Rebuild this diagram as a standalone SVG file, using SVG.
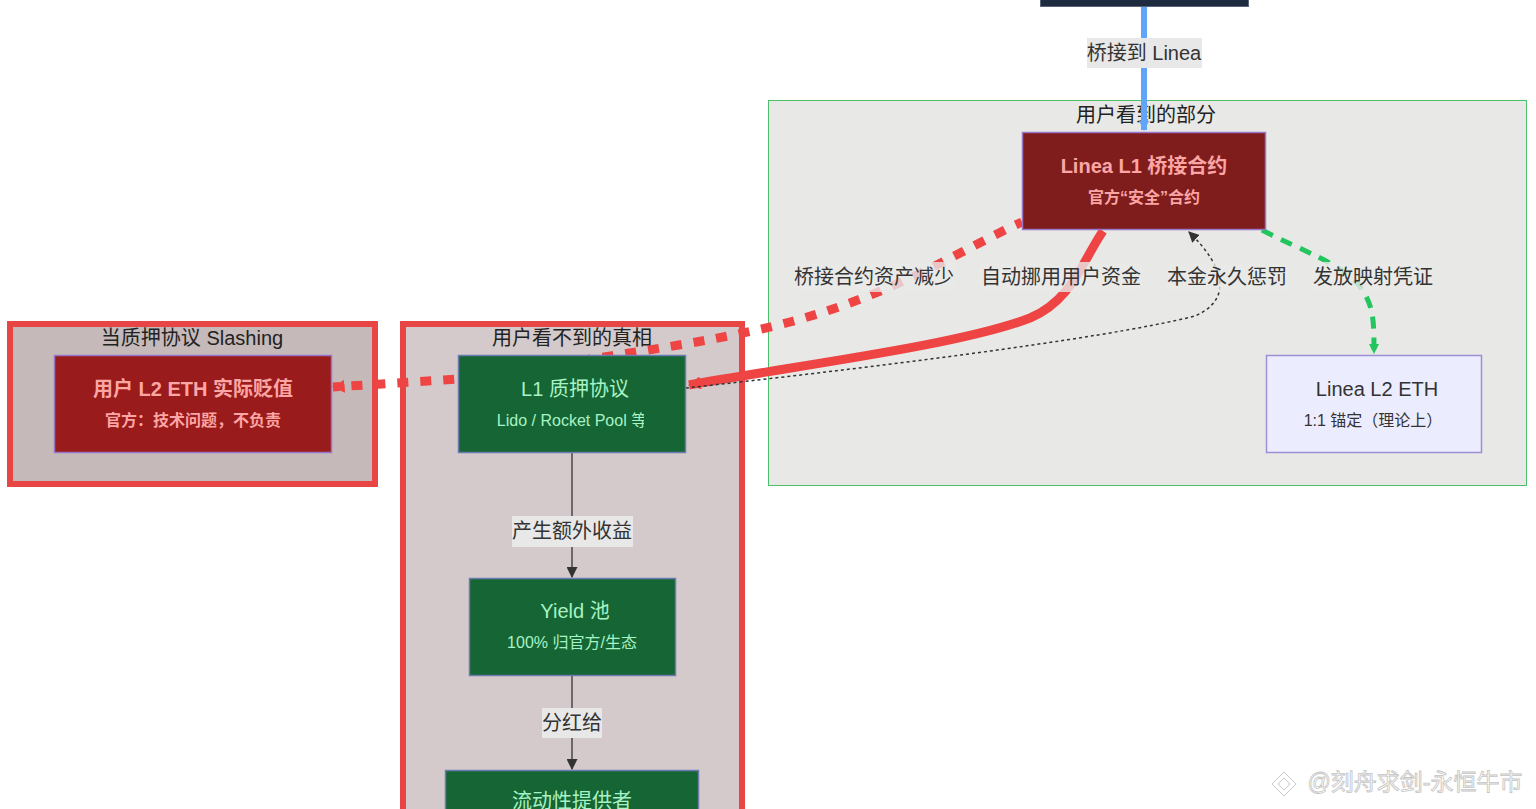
<svg xmlns="http://www.w3.org/2000/svg" width="1536" height="809" viewBox="0 0 1536 809">
<style>
text{font-family:"Liberation Sans","Noto Sans CJK SC",sans-serif;text-anchor:middle;dominant-baseline:central}
.ct{font-size:20px;fill:#222}
.lb{font-size:20px;fill:#333}
.lbg{fill:#e8e8e8;opacity:.8}
.nt{font-size:20px;font-weight:bold;fill:#fca5a5}
.ns{font-size:16px;font-weight:bold;fill:#fca5a5}
.gt{font-size:20px;fill:#a7f3c4}
.gs{font-size:16px;fill:#a7f3c4}
.gn{fill:#166534;stroke:#6b7bb0;stroke-width:1.5}
.rn{stroke:#9a76c8;stroke-width:1.5}
</style>
<defs>
<marker id="aBlue" markerUnits="userSpaceOnUse" viewBox="0 0 10 10" refX="9" refY="5" markerWidth="10" markerHeight="10" orient="auto"><path d="M0,0 L10,5 L0,10 z" fill="#60a5fa"/></marker>
<marker id="aRed" markerUnits="userSpaceOnUse" viewBox="0 0 10 10" refX="9" refY="5" markerWidth="13" markerHeight="13" orient="auto"><path d="M0,0 L10,5 L0,10 z" fill="#ef4444"/></marker>
<marker id="aGreen" markerUnits="userSpaceOnUse" viewBox="0 0 10 10" refX="9" refY="5" markerWidth="10" markerHeight="10" orient="auto"><path d="M0,0 L10,5 L0,10 z" fill="#22c55e"/></marker>
<marker id="aDark" markerUnits="userSpaceOnUse" viewBox="0 0 10 10" refX="9" refY="5" markerWidth="11" markerHeight="11" orient="auto"><path d="M0,0 L10,5 L0,10 z" fill="#333"/></marker>
<clipPath id="clipLido"><rect x="458" y="355" width="186" height="98"/></clipPath>
</defs>
<rect width="1536" height="809" fill="#fff"/>

<g id="cluster-seen">
<rect x="768.5" y="100.5" width="758" height="385" fill="#e8e9e6" stroke="#4cc06a" stroke-width="1"/>
<text class="ct" x="1146" y="115">用户看到的部分</text>
</g>
<g id="cluster-slashing">
<rect x="10" y="324" width="365" height="160" fill="#c5b9ba" stroke="#e84545" stroke-width="6"/>
<text class="ct" x="192" y="338">当质押协议 Slashing</text>
</g>
<g id="cluster-hidden">
<rect x="403" y="324" width="339" height="500" fill="#d4cacb" stroke="#e84545" stroke-width="6"/>
<text class="ct" x="572" y="338">用户看不到的真相</text>
</g>

<g id="connectors" fill="none">
<path d="M1144,7 L1144,130" stroke="#60a5fa" stroke-width="6" marker-end="url(#aBlue)"/>
<path d="M1022,222 C960,250 900,292 790,322 C700,346 560,362 460,379 L333,387" stroke="#ef4444" stroke-width="9" stroke-dasharray="11 12" stroke-dashoffset="4" marker-end="url(#aRed)"/>
<path d="M1103,231 C1082,262 1072,300 1030,318 C960,345 800,365 689,385" stroke="#ef4444" stroke-width="9" marker-end="url(#aRed)"/>
<path d="M686,388 C850,370 1100,340 1195,316 C1232,300 1226,268 1189,232" stroke="#333" stroke-width="1.5" stroke-dasharray="3 3" marker-end="url(#aDark)"/>
<path d="M1262,230 C1300,250 1338,262 1358,284 C1374,304 1374,320 1374,353" stroke="#22c55e" stroke-width="5" stroke-dasharray="12 9" marker-end="url(#aGreen)"/>
<path d="M572,453 L572,577" stroke="#333" stroke-width="1.3" marker-end="url(#aDark)"/>
<path d="M572,676 L572,769" stroke="#333" stroke-width="1.3" marker-end="url(#aDark)"/>
</g>

<g id="edge-labels">
<rect x="1087" y="38" width="115" height="30" fill="#e8e8e8"/>
<text class="lb" x="1144" y="53">桥接到 Linea</text>
<rect class="lbg" x="794" y="262" width="161" height="30"/>
<text class="lb" x="874" y="277">桥接合约资产减少</text>
<rect class="lbg" x="980" y="262" width="162" height="30"/>
<text class="lb" x="1061" y="277">自动挪用用户资金</text>
<rect class="lbg" x="1166" y="262" width="122" height="30"/>
<text class="lb" x="1227" y="277">本金永久惩罚</text>
<rect class="lbg" x="1312" y="262" width="122" height="30"/>
<text class="lb" x="1373" y="277">发放映射凭证</text>
<rect x="512" y="516" width="121" height="31" fill="#e8e8e8"/>
<text class="lb" x="572" y="531">产生额外收益</text>
<rect x="542" y="708" width="60" height="30" fill="#e8e8e8"/>
<text class="lb" x="572" y="723">分红给</text>
</g>

<g id="node-top">
<rect x="1040.5" y="-10" width="208" height="16.5" fill="#1e2a3d" stroke="#5a6478" stroke-width="1"/>
</g>
<g id="node-bridge">
<rect class="rn" x="1022.5" y="132.5" width="243" height="97" fill="#7f1d1d"/>
<text class="nt" x="1144" y="166">Linea L1 桥接合约</text>
<text class="ns" x="1144" y="197">官方“安全”合约</text>
</g>
<g id="node-l2eth">
<rect x="1266.5" y="355.5" width="215" height="97" fill="#ececff" stroke="#9f8fd6" stroke-width="1.5"/>
<text x="1377" y="389" style="font-size:20px;fill:#333">Linea L2 ETH</text>
<text x="1373" y="420" style="font-size:16px;fill:#333">1:1 锚定（理论上）</text>
</g>
<g id="node-devalue">
<rect class="rn" x="54.5" y="355.5" width="277" height="97" fill="#991b1b"/>
<text class="nt" x="193" y="389">用户 L2 ETH 实际贬值</text>
<text class="ns" x="193" y="420">官方：技术问题，不负责</text>
</g>
<g id="node-staking">
<rect class="gn" x="458.5" y="355.5" width="227" height="97"/>
<text class="gt" x="575" y="389">L1 质押协议</text>
<text class="gs" x="572" y="420" clip-path="url(#clipLido)">Lido / Rocket Pool 等</text>
</g>
<g id="node-yield">
<rect class="gn" x="469.5" y="578.5" width="206" height="97"/>
<text class="gt" x="575" y="611">Yield 池</text>
<text class="gs" x="572" y="642">100% 归官方/生态</text>
</g>
<g id="node-lp">
<rect class="gn" x="445.5" y="770.5" width="253" height="60"/>
<text class="gt" x="572" y="801">流动性提供者</text>
</g>

<g id="watermark" opacity="0.8">
<path d="M1284,772 L1296,784 L1284,796 L1272,784 z M1284,778 L1290,784 L1284,790 L1278,784 z" fill="#fff" stroke="#bbb" stroke-width="1"/>
<text x="1415" y="782" style="font-size:23px;fill:#fff;stroke:#b5b5b5;stroke-width:0.8">@刻舟求剑-永恒牛市</text>
</g>
</svg>
